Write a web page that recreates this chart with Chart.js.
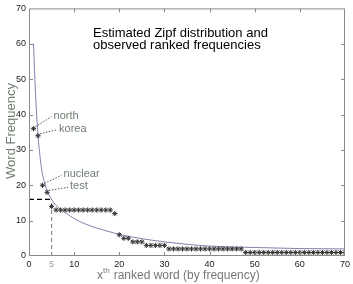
<!DOCTYPE html>
<html>
<head>
<meta charset="UTF-8">
<title>Zipf</title>
<script src="https://cdn.jsdelivr.net/npm/chart.js"></script>
<style>
  html, body { margin: 0; padding: 0; background: #fff; }
  #wrap { width: 353px; height: 284px; }
</style>
</head>
<body>
<div id="wrap"><canvas id="myChart" width="353" height="284"></canvas></div>
<script>
// observed frequency of ranked words, rank 1..70
const observedFreq = [36, 34, 20, 18, 14,
  13, 13, 13, 13, 13, 13, 13, 13, 13, 13, 13, 13, 13,
  12, 6, 5, 5, 4, 4, 4, 3, 3, 3, 3, 3,
  2, 2, 2, 2, 2, 2, 2, 2, 2, 2, 2, 2, 2, 2, 2, 2, 2,
  1, 1, 1, 1, 1, 1, 1, 1, 1, 1, 1, 1, 1, 1, 1, 1, 1, 1, 1, 1, 1, 1, 1];

// estimated zipf curve
const zipfRank = [1, 1.3, 1.6, 2, 2.5, 3, 3.5, 4, 5, 6, 7, 8, 10, 12, 15, 18, 20, 25, 30, 35, 40, 50, 60, 70];
const zipfFreq = [60, 50, 42, 34, 27.5, 23, 20.5, 18.5, 16, 14.3, 13.2, 12.3, 10.6, 9.3, 7.9, 6.8, 6.1, 4.9, 4.0, 3.3, 2.8, 2.4, 2.1, 2.0];

const xTicks = [0, 5, 10, 20, 30, 40, 50, 60, 70];
const yTicks = [0, 10, 20, 30, 40, 50, 60, 70];

const cutRank = 5, cutFreq = 16;

// words labelled on the plot, by rank (dx/dy = text offset from the star)
const labelled = [
  { rank: 1, word: 'north', dx: 20, dy: -13 },
  { rank: 2, word: 'korea', dx: 21, dy: -7 },
  { rank: 3, word: 'nuclear', dx: 21, dy: -11 },
  { rank: 4, word: 'test', dx: 23, dy: -6 }
];

const FONT = '"Liberation Sans", Arial, sans-serif';
const GREEN_GREY = '#6f7d70';

const stars = observedFreq.map((f, i) => ({ x: i + 1, y: f }));
const zipf = zipfRank.map((r, i) => ({ x: r, y: zipfFreq[i] }));

const overlay = {
  id: 'overlay',
  afterDatasetsDraw(chart) {
    const { ctx, chartArea: a, scales } = chart;
    const xs = scales.x, ys = scales.y;
    ctx.save();

    // frame + inner tick marks
    ctx.strokeStyle = '#8a8a8a';
    ctx.lineWidth = 1;
    ctx.strokeRect(a.left + 0.5, a.top + 0.5, a.right - a.left - 1, a.bottom - a.top - 1);
    ctx.beginPath();
    [10, 20, 30, 40, 50, 60].forEach(v => {
      const px = Math.round(xs.getPixelForValue(v)) + 0.5;
      ctx.moveTo(px, a.bottom); ctx.lineTo(px, a.bottom - 4);
      ctx.moveTo(px, a.top); ctx.lineTo(px, a.top + 4);
      const py = Math.round(ys.getPixelForValue(v)) + 0.5;
      ctx.moveTo(a.left, py); ctx.lineTo(a.left + 4, py);
      ctx.moveTo(a.right, py); ctx.lineTo(a.right - 4, py);
    });
    ctx.stroke();

    // labels with dotted leaders
    ctx.font = '11px ' + FONT;
    ctx.fillStyle = GREEN_GREY;
    ctx.textBaseline = 'middle';
    ctx.textAlign = 'left';
    labelled.forEach(l => {
      const sx = xs.getPixelForValue(l.rank);
      const sy = ys.getPixelForValue(observedFreq[l.rank - 1]);
      const tx = sx + l.dx, ty = sy + l.dy;
      ctx.strokeStyle = '#555';
      ctx.setLineDash([1.5, 1.5]);
      ctx.beginPath();
      ctx.moveTo(sx + 2, sy - 2);
      ctx.lineTo(tx - 2, ty + 1);
      ctx.stroke();
      ctx.setLineDash([]);
      ctx.fillText(l.word, tx, ty);
    });

    // inner title
    ctx.fillStyle = '#000';
    ctx.font = '13px ' + FONT;
    ctx.fillText('Estimated Zipf distribution and', 93, 33);
    ctx.fillText('observed ranked frequencies', 93, 45);

    // x axis title with superscript
    ctx.fillStyle = '#777';
    ctx.font = '12px ' + FONT;
    ctx.textBaseline = 'alphabetic';
    let x0 = 97;
    ctx.fillText('x', x0, 279);
    x0 += ctx.measureText('x').width;
    ctx.font = '8px ' + FONT;
    ctx.fillText('th', x0, 273);
    x0 += ctx.measureText('th').width + 4;
    ctx.font = '12px ' + FONT;
    ctx.fillText('ranked word (by frequency)', x0, 279);

    // y axis title
    ctx.save();
    ctx.translate(15, 131);
    ctx.rotate(-Math.PI / 2);
    ctx.textAlign = 'center';
    ctx.fillStyle = GREEN_GREY;
    ctx.font = '13px ' + FONT;
    ctx.fillText('Word Frequency', 0, 0);
    ctx.restore();

    ctx.restore();
  }
};

const ctx = document.getElementById('myChart').getContext('2d');
const myChart = new Chart(ctx, {
  type: 'scatter',
  data: {
    datasets: [
      {
        label: 'zipf',
        data: zipf,
        showLine: true,
        borderColor: '#8082ac',
        borderWidth: 1,
        pointRadius: 0,
        cubicInterpolationMode: 'monotone',
        order: 2
      },
      {
        label: 'cut-h',
        data: [{ x: 0, y: cutFreq }, { x: cutRank, y: cutFreq }],
        showLine: true,
        borderColor: '#000',
        borderWidth: 1.2,
        borderDash: [5, 3],
        pointRadius: 0,
        order: 3
      },
      {
        label: 'cut-v',
        data: [{ x: cutRank, y: 0 }, { x: cutRank, y: cutFreq }],
        showLine: true,
        borderColor: '#888',
        borderWidth: 1.2,
        borderDash: [4, 3],
        pointRadius: 0,
        order: 3
      },
      {
        label: 'observed',
        data: stars,
        showLine: false,
        pointStyle: 'star',
        pointRadius: 2.6,
        borderWidth: 1,
        borderColor: '#333',
        backgroundColor: '#333',
        order: 1
      }
    ]
  },
  options: {
    responsive: false,
    animation: false,
    layout: { padding: { top: 7, right: 6, left: 0, bottom: 0 } },
    plugins: { legend: { display: false }, tooltip: { enabled: false } },
    scales: {
      x: {
        type: 'linear',
        min: 0,
        max: 70,
        afterBuildTicks: (scale) => { scale.ticks = xTicks.map(v => ({ value: v })); },
        afterFit: (scale) => { scale.height = 28; },
        grid: { display: false, drawTicks: false },
        border: { display: false },
        ticks: {
          autoSkip: false,
          maxRotation: 0,
          padding: 3,
          font: { size: 9, family: FONT },
          color: (c) => c.tick && c.tick.value === 5 ? '#999' : '#222',
          callback: (v) => String(v)
        }
      },
      y: {
        type: 'linear',
        min: 0,
        max: 70,
        afterBuildTicks: (scale) => { scale.ticks = yTicks.map(v => ({ value: v })); },
        afterFit: (scale) => { scale.width = 29; },
        grid: { display: false, drawTicks: false },
        border: { display: false },
        ticks: {
          padding: 3,
          font: { size: 9, family: FONT },
          color: '#222'
        }
      }
    }
  },
  plugins: [overlay]
});
</script>
</body>
</html>
